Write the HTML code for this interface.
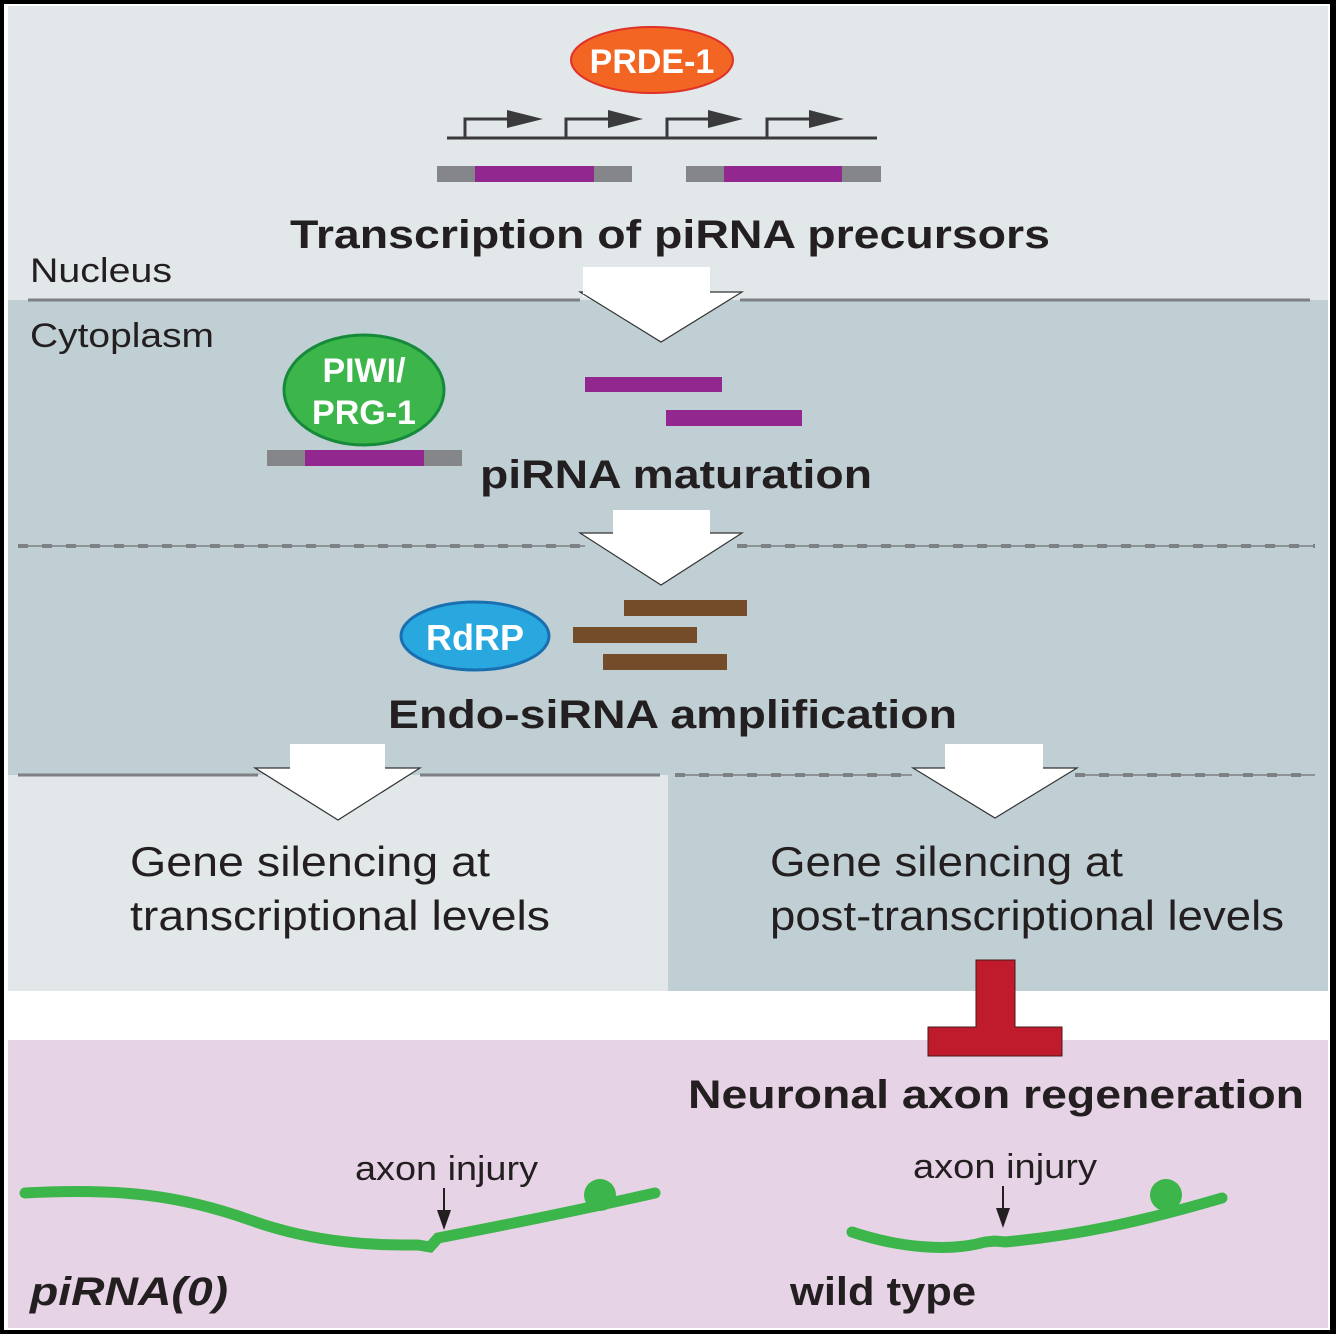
<!DOCTYPE html>
<html><head><style>html,body{margin:0;padding:0;background:#fff}svg{display:block}</style></head>
<body>
<svg width="1336" height="1334" viewBox="0 0 1336 1334" xmlns="http://www.w3.org/2000/svg" font-family="Liberation Sans, sans-serif">
<rect x="0" y="0" width="1336" height="1334" fill="#000"/>
<rect x="4" y="4" width="1326" height="1326" fill="#fff"/>
<rect x="8" y="6" width="1320" height="294" fill="#e2e7ea"/>
<rect x="8" y="300" width="1320" height="475" fill="#bfcfd3"/>
<rect x="8" y="775" width="660" height="216" fill="#e2e7ea"/>
<rect x="668" y="775" width="660" height="216" fill="#bfcfd3"/>
<rect x="8" y="1040" width="1320" height="288" fill="#e7d3e6"/>

<g stroke="#7d8084" stroke-width="3">
<line x1="28" y1="300" x2="580" y2="300"/><line x1="740" y1="300" x2="1310" y2="300"/>
<line x1="18" y1="775" x2="258" y2="775"/><line x1="420" y1="775" x2="660" y2="775"/>
</g>
<g stroke="#7d8084" stroke-width="1.5"><line x1="18" y1="546" x2="585" y2="546"/><line x1="737" y1="546" x2="1315" y2="546"/>
<line x1="675" y1="775" x2="912" y2="775"/><line x1="1075" y1="775" x2="1315" y2="775"/></g>
<g stroke="#7d8084" stroke-width="4" stroke-dasharray="10 14"><line x1="18" y1="546" x2="585" y2="546"/><line x1="737" y1="546" x2="1315" y2="546"/>
<line x1="675" y1="775" x2="912" y2="775"/><line x1="1075" y1="775" x2="1315" y2="775"/></g>

<g fill="#fff">
<rect x="583" y="267" width="127" height="30"/>
<polygon points="580,292 742,292 661,342" stroke="#333" stroke-width="1.2"/>
<rect x="583" y="288" width="127" height="6"/>
<rect x="613" y="510" width="97" height="26"/>
<polygon points="580,533 742,533 661,585" stroke="#333" stroke-width="1.2"/>
<rect x="613" y="530" width="97" height="5"/>
<rect x="290" y="744" width="95" height="27"/>
<polygon points="255,768 420,768 338,820" stroke="#333" stroke-width="1.2"/>
<rect x="290" y="764" width="95" height="5"/>
<rect x="945" y="744" width="98" height="27"/>
<polygon points="913,768 1077,768 995,818" stroke="#333" stroke-width="1.2"/>
<rect x="945" y="764" width="98" height="5"/>
</g>

<ellipse cx="652" cy="60" rx="81" ry="33" fill="#f26522" stroke="#e0302a" stroke-width="2"/>
<text x="652" y="73" font-size="34" font-weight="bold" fill="#fff" text-anchor="middle">PRDE-1</text>

<g stroke="#3a3a3c" stroke-width="3" fill="none">
<line x1="447" y1="138" x2="877" y2="138"/>
<polyline points="465,138 465,119 510,119"/><polyline points="566,138 566,119 610,119"/>
<polyline points="667,138 667,119 710,119"/><polyline points="767,138 767,119 810,119"/>
</g>
<g fill="#3a3a3c">
<polygon points="507,110 543,119 507,128"/><polygon points="608,110 643,119 608,128"/>
<polygon points="708,110 743,119 708,128"/><polygon points="809,110 844,119 809,128"/>
</g>
<rect x="437" y="166" width="195" height="16" fill="#858689"/><rect x="475" y="166" width="119" height="16" fill="#92278f"/>
<rect x="686" y="166" width="195" height="16" fill="#858689"/><rect x="724" y="166" width="118" height="16" fill="#92278f"/>

<text x="670" y="248" font-size="40" font-weight="bold" fill="#231f20" text-anchor="middle" textLength="760" lengthAdjust="spacingAndGlyphs">Transcription of piRNA precursors</text>
<text x="30" y="282" font-size="34" fill="#231f20" textLength="142" lengthAdjust="spacingAndGlyphs">Nucleus</text>
<text x="30" y="347" font-size="34" fill="#231f20" textLength="184" lengthAdjust="spacingAndGlyphs">Cytoplasm</text>

<ellipse cx="364" cy="390" rx="80" ry="55" fill="#3cb54a" stroke="#148a3a" stroke-width="3"/>
<text x="364" y="382" font-size="34" font-weight="bold" fill="#fff" text-anchor="middle">PIWI/</text>
<text x="364" y="424" font-size="34" font-weight="bold" fill="#fff" text-anchor="middle">PRG-1</text>
<rect x="267" y="450" width="195" height="16" fill="#858689"/><rect x="305" y="450" width="119" height="16" fill="#92278f"/>
<rect x="585" y="377" width="137" height="15" fill="#92278f"/>
<rect x="666" y="410" width="136" height="16" fill="#92278f"/>
<text x="480" y="488" font-size="40" font-weight="bold" fill="#231f20" textLength="392" lengthAdjust="spacingAndGlyphs">piRNA maturation</text>

<ellipse cx="475" cy="636" rx="74" ry="34" fill="#29a8e0" stroke="#1a6fb0" stroke-width="3"/>
<text x="475" y="650" font-size="36" font-weight="bold" fill="#fff" text-anchor="middle">RdRP</text>
<g fill="#754c29">
<rect x="624" y="600" width="123" height="16"/><rect x="573" y="627" width="124" height="16"/><rect x="603" y="654" width="124" height="16"/>
</g>
<text x="388" y="728" font-size="40" font-weight="bold" fill="#231f20" textLength="569" lengthAdjust="spacingAndGlyphs">Endo-siRNA amplification</text>

<g font-size="42" fill="#231f20">
<text x="130" y="876" textLength="360" lengthAdjust="spacingAndGlyphs">Gene silencing at</text>
<text x="130" y="930" textLength="420" lengthAdjust="spacingAndGlyphs">transcriptional levels</text>
<text x="770" y="876" textLength="353" lengthAdjust="spacingAndGlyphs">Gene silencing at</text>
<text x="770" y="930" textLength="514" lengthAdjust="spacingAndGlyphs">post-transcriptional levels</text>
</g>

<path d="M976,960 H1015 V1027 H1062 V1056 H928 V1027 H976 Z" fill="#c01b2c" stroke="#4a1a1a" stroke-width="1"/>

<text x="688" y="1108" font-size="40" font-weight="bold" fill="#231f20" textLength="616" lengthAdjust="spacingAndGlyphs">Neuronal axon regeneration</text>

<g stroke="#3cb54a" stroke-width="11" fill="none" stroke-linecap="round">
<path d="M25,1193 C120,1188 180,1195 250,1220 C320,1245 380,1245 418,1245 L430,1247 L438,1238 C520,1222 570,1212 655,1193"/>
<path d="M852,1232 C900,1248 950,1252 985,1242 L995,1241 L1005,1242 C1080,1235 1140,1222 1222,1198"/>
</g>
<circle cx="600" cy="1195" r="16" fill="#3cb54a"/>
<circle cx="1166" cy="1195" r="16" fill="#3cb54a"/>
<g font-size="34" fill="#231f20">
<text x="355" y="1180" textLength="183" lengthAdjust="spacingAndGlyphs">axon injury</text>
<text x="913" y="1178" textLength="184" lengthAdjust="spacingAndGlyphs">axon injury</text>
</g>
<g stroke="#231f20" stroke-width="2"><line x1="444" y1="1188" x2="444" y2="1215"/><line x1="1003" y1="1186" x2="1003" y2="1213"/></g>
<g fill="#231f20"><polygon points="437,1210 451,1210 444,1230"/><polygon points="996,1208 1010,1208 1003,1228"/></g>

<text x="30" y="1305" font-size="40" font-weight="bold" font-style="italic" fill="#231f20" textLength="198" lengthAdjust="spacingAndGlyphs">piRNA(0)</text>
<text x="790" y="1305" font-size="40" font-weight="bold" fill="#231f20" textLength="186" lengthAdjust="spacingAndGlyphs">wild type</text>
</svg>
</body></html>
